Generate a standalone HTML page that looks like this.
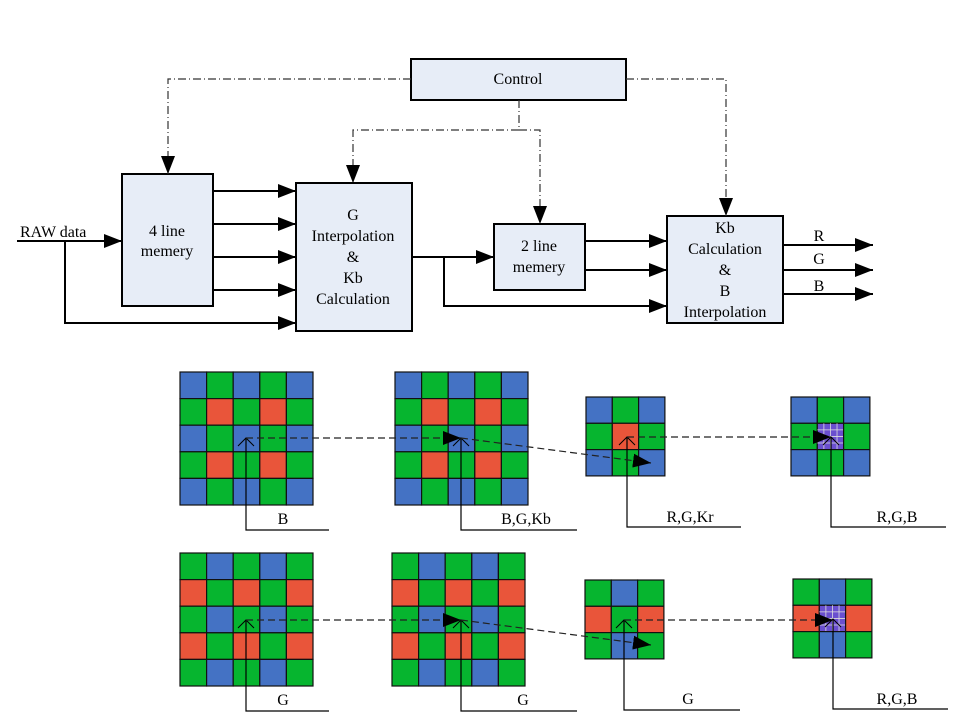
<!DOCTYPE html>
<html><head><meta charset="utf-8"><style>
html,body{margin:0;padding:0;background:#fff;}
svg{display:block;}
text{font-family:"Liberation Serif","DejaVu Serif",serif;font-size:16px;fill:#000;}
</style></head><body>
<svg id="s" width="967" height="717" viewBox="0 0 967 717" xmlns="http://www.w3.org/2000/svg" font-family="Liberation Serif, DejaVu Serif, serif">
<defs>
<marker id="A" markerWidth="18" markerHeight="14" refX="18" refY="7" orient="auto" markerUnits="userSpaceOnUse"><path d="M0,0L18,7L0,14z" fill="#000"/></marker>
</defs>
<g fill="#e7edf7" stroke="#000" stroke-width="2">
<rect x="411" y="59" width="215" height="41"/>
<rect x="122" y="174" width="91" height="132"/>
<rect x="296" y="183" width="116" height="148"/>
<rect x="494" y="224" width="91" height="66"/>
<rect x="667" y="216" width="116" height="107"/>
</g>
<g text-anchor="middle" font-family="Liberation Serif, DejaVu Serif, serif">
<text x="518" y="84">Control</text>
<text x="167" y="236">4 line</text><text x="167" y="256">memery</text>
<text x="353" y="220">G</text><text x="353" y="241">Interpolation</text><text x="353" y="262">&amp;</text><text x="353" y="283">Kb</text><text x="353" y="304">Calculation</text>
<text x="539" y="251">2 line</text><text x="539" y="272">memery</text>
<text x="725" y="233">Kb</text><text x="725" y="254">Calculation</text><text x="725" y="275">&amp;</text><text x="725" y="296">B</text><text x="725" y="317">Interpolation</text>
<text x="819" y="241">R</text><text x="819" y="264">G</text><text x="819" y="291">B</text>
</g>
<text x="20" y="237" font-family="Liberation Serif, DejaVu Serif, serif">RAW data</text>
<g stroke="#000" stroke-width="2" fill="none" marker-end="url(#A)">
<path d="M17,241H122"/>
<path d="M65,241V323H296"/>
<path d="M213,191H296"/><path d="M213,224H296"/><path d="M213,257H296"/><path d="M213,290H296"/>
<path d="M412,257H494"/>
<path d="M444,257V306H667"/>
<path d="M585,241H667"/><path d="M585,270H667"/>
<path d="M783,245H873"/><path d="M783,270H873"/><path d="M783,294H873"/>
</g>
<g stroke="#333" stroke-width="1.2" fill="none" stroke-dasharray="8,3,1,3" marker-end="url(#A)">
<path d="M411,79H168V174"/>
<path d="M519,100V130H353V183"/>
<path d="M519,130H540V224"/>
<path d="M626,79H726V216"/>
</g>
<g id="grids"></g>
<g stroke="#000" stroke-width="1.2" fill="none">
<path d="M246,438V530H329"/><path d="M461,438V530H577"/><path d="M627,437V527H741"/><path d="M831,437V527H946"/>
<path d="M246,620V711H329"/><path d="M461,620V711H577"/><path d="M624,620V710H740"/><path d="M833,619V709H948"/>
</g>
<g stroke="#000" stroke-width="1" fill="none">
<path d="M238,446L246,438L254,446"/><path d="M453,446L461,438L469,446"/><path d="M619,445L627,437L635,445"/><path d="M823,445L831,437L839,445"/>
<path d="M238,628L246,620L254,628"/><path d="M453,628L461,620L469,628"/><path d="M616,628L624,620L632,628"/><path d="M825,627L833,619L841,627"/>
</g>
<g stroke="#222" stroke-width="1.2" fill="none" stroke-dasharray="7,4" marker-end="url(#A)">
<path d="M246,438H461"/><path d="M461,438L651,463"/><path d="M627,437H831"/>
<path d="M246,620H461"/><path d="M461,620L651,645"/><path d="M624,620H833"/>
</g>
<g text-anchor="middle" font-family="Liberation Serif, DejaVu Serif, serif">
<text x="283" y="524">B</text><text x="526" y="524">B,G,Kb</text><text x="690" y="522">R,G,Kr</text><text x="897" y="522">R,G,B</text>
<text x="283" y="705">G</text><text x="523" y="705">G</text><text x="688" y="704">G</text><text x="897" y="704">R,G,B</text>
</g>
</svg>
<script>
var C={B:"#4472c4",G:"#06b52f",R:"#e9553a",P:"#6a4fcf"};
var grids=[
[180,372,26.6,["BGBGB","GRGRG","BGBGB","GRGRG","BGBGB"]],
[395,372,26.6,["BGBGB","GRGRG","BGBGB","GRGRG","BGBGB"]],
[586,397,26.3,["BGB","GRG","BGB"]],
[791,397,26.3,["BGB","GPG","BGB"]],
[180,553,26.6,["GBGBG","RGRGR","GBGBG","RGRGR","GBGBG"]],
[392,553,26.6,["GBGBG","RGRGR","GBGBG","RGRGR","GBGBG"]],
[585,580,26.3,["GBG","RGR","GBG"]],
[793,579,26.3,["GBG","RPR","GBG"]]];
var h="";
grids.forEach(function(g){
 var x=g[0],y=g[1],s=g[2];
 g[3].forEach(function(row,r){for(var c=0;c<row.length;c++){
  var cx=x+c*s,cy=y+r*s;
  h+='<rect x="'+cx+'" y="'+cy+'" width="'+s+'" height="'+s+'" fill="'+C[row[c]]+'" stroke="#111" stroke-width="1.2"/>';
  if(row[c]=="P"){for(var k=1;k<4;k++){h+='<line x1="'+(cx+k*s/4)+'" y1="'+cy+'" x2="'+(cx+k*s/4)+'" y2="'+(cy+s)+'" stroke="#ddd" stroke-width="0.8"/><line x1="'+cx+'" y1="'+(cy+k*s/4)+'" x2="'+(cx+s)+'" y2="'+(cy+k*s/4)+'" stroke="#ddd" stroke-width="0.8"/>';}}
 }});
});
document.getElementById("grids").innerHTML=h;
</script>
</body></html>
